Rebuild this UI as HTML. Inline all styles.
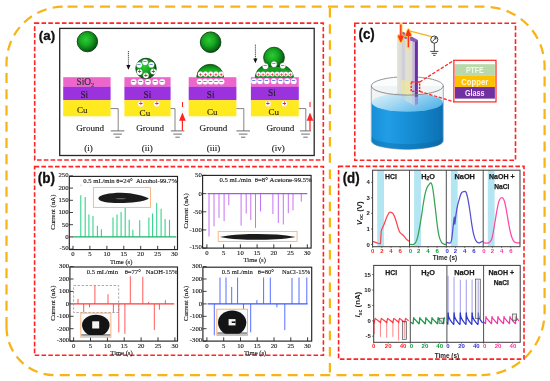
<!DOCTYPE html>
<html lang="en"><head><meta charset="utf-8"><title>Figure</title>
<style>html,body{margin:0;padding:0;background:#fff;}svg{display:block;}.se{font-family:"Liberation Serif", serif;stroke:#222;stroke-width:0.14px;}.sa{font-family:"Liberation Sans", sans-serif;}</style></head><body>
<svg width="550" height="381" viewBox="0 0 550 381">
<defs>
<radialGradient id="gball" cx="0.42" cy="0.4" r="0.62"><stop offset="0" stop-color="#2bcc32"/><stop offset="0.45" stop-color="#18a823"/><stop offset="0.85" stop-color="#0b6915"/><stop offset="1" stop-color="#06420c"/></radialGradient>
<radialGradient id="gdome" cx="0.5" cy="0.75" r="0.8"><stop offset="0" stop-color="#29c630"/><stop offset="0.5" stop-color="#18a823"/><stop offset="0.9" stop-color="#0b6915"/><stop offset="1" stop-color="#06420c"/></radialGradient>
<radialGradient id="gball4" cx="0.5" cy="0.45" r="0.7"><stop offset="0" stop-color="#29c630"/><stop offset="0.5" stop-color="#18a823"/><stop offset="0.9" stop-color="#0b6915"/><stop offset="1" stop-color="#06420c"/></radialGradient>
<linearGradient id="gwater" x1="0" y1="0" x2="1" y2="0"><stop offset="0" stop-color="#168fd6"/><stop offset="0.22" stop-color="#219ee6"/><stop offset="0.6" stop-color="#148ad0"/><stop offset="1" stop-color="#0c70b2"/></linearGradient>
<linearGradient id="gsurf" x1="0" y1="0" x2="1" y2="0.6"><stop offset="0" stop-color="#e4f3fb"/><stop offset="0.45" stop-color="#a8daf4"/><stop offset="1" stop-color="#5ab6ea"/></linearGradient>
<linearGradient id="gplate" x1="0" y1="0" x2="1" y2="0"><stop offset="0" stop-color="#e4e4dc"/><stop offset="0.22" stop-color="#dcdcd6"/><stop offset="0.3" stop-color="#cfcfda"/><stop offset="0.42" stop-color="#d2d0da"/><stop offset="0.5" stop-color="#e4e2d0"/><stop offset="0.85" stop-color="#dedcc8"/><stop offset="1" stop-color="#d8d2da"/></linearGradient>
<linearGradient id="gbase" x1="0" y1="0" x2="0" y2="1"><stop offset="0" stop-color="#6a6a6a"/><stop offset="1" stop-color="#d8d8d8"/></linearGradient>
</defs>
<rect width="550" height="381" fill="#fff"/>
<path d="M63.5 6.7 H484.6 A60 60 0 0 1 544.6 66.7 V312.1 A63 63 0 0 1 481.6 375.1" fill="none" stroke="#f8b414" stroke-width="2.25" stroke-dasharray="10 6.28" stroke-dashoffset="-4.0"/>
<path d="M481.6 375.1 H54.5 A48 48 0 0 1 6.5 327.1" fill="none" stroke="#f8b414" stroke-width="2.25" stroke-dasharray="10 6.28" stroke-dashoffset="-4.85"/>
<path d="M6.5 327.1 V63.7 A57 57 0 0 1 63.5 6.7" fill="none" stroke="#f8b414" stroke-width="2.25" stroke-dasharray="10 6.28" stroke-dashoffset="0"/>
<line x1="329.9" y1="6.7" x2="329.9" y2="375" stroke="#f8b414" stroke-width="2.25" stroke-dasharray="9.5 6.64" stroke-dashoffset="-1.3"/>
<rect x="34.7" y="23.1" width="288.6" height="136.9" fill="none" stroke="#ff2323" stroke-width="1.6" stroke-dasharray="4.6 2.2"/>
<rect x="34.6" y="166.6" width="288.8" height="188.7" fill="none" stroke="#ff2323" stroke-width="1.6" stroke-dasharray="4.6 2.2"/>
<rect x="354.8" y="23.2" width="160.7" height="137.0" fill="none" stroke="#ff2323" stroke-width="1.6" stroke-dasharray="4.6 2.2"/>
<rect x="338.6" y="166.4" width="185.4" height="192.7" fill="none" stroke="#ff2323" stroke-width="1.6" stroke-dasharray="4.6 2.2"/>
<text x="38.8" y="40.4" class="sa" font-size="13.7" text-anchor="start" fill="#111" font-weight="bold" textLength="16.3" lengthAdjust="spacingAndGlyphs" stroke="#111" stroke-width="0.3">(a)</text>
<rect x="59.7" y="28.4" width="254.5" height="127.1" fill="#fff" stroke="#262626" stroke-width="1.3"/>
<rect x="63.2" y="77.2" width="47.4" height="9.7" fill="#ee66cc"/>
<rect x="63.2" y="86.8" width="47.4" height="13.4" fill="#9a33dd"/>
<rect x="63.2" y="100.1" width="47.4" height="16.2" fill="#ffe91f"/>
<text x="84.3" y="97.6" class="se" font-size="9.3" text-anchor="middle" fill="#2a1a2a">Si</text>
<text x="82.3" y="112.9" class="se" font-size="9.1" text-anchor="middle" fill="#33300a">Cu</text>
<text x="85.3" y="85.2" class="se" font-size="9.3" text-anchor="middle" fill="#333">SiO<tspan font-size="6" dy="1.6">2</tspan></text>
<circle cx="87.4" cy="41.6" r="10.2" fill="url(#gball)" stroke="#06400c" stroke-width="0.9"/>
<path d="M110.6 108.6 H118.2 V130.8" fill="none" stroke="#666" stroke-width="0.8"/>
<path d="M110.8 130.9 H124.4 M113.3 134.1 H121.9 M115.4 137.2 H119.8" fill="none" stroke="#555" stroke-width="0.85"/>
<rect x="124.4" y="77.2" width="46.2" height="9.7" fill="#ee66cc"/>
<rect x="124.4" y="86.8" width="46.2" height="13.4" fill="#9a33dd"/>
<rect x="124.4" y="100.1" width="46.2" height="16.2" fill="#ffe91f"/>
<text x="147.5" y="97.6" class="se" font-size="9.3" text-anchor="middle" fill="#2a1a2a">Si</text>
<text x="144.9" y="115.5" class="se" font-size="9.1" text-anchor="middle" fill="#33300a">Cu</text>
<circle cx="146" cy="68.4" r="10.2" fill="url(#gball)" stroke="#06400c" stroke-width="0.9"/>
<circle cx="139.2" cy="65.0" r="2.8" fill="#fff" stroke="#cfcfe8" stroke-width="0.3"/>
<text x="139.2" y="67.14" class="sa" font-size="6.3" font-weight="bold" text-anchor="middle" fill="#2a55e0">−</text>
<circle cx="145.1" cy="62.3" r="2.8" fill="#fff" stroke="#cfcfe8" stroke-width="0.3"/>
<text x="145.1" y="64.44" class="sa" font-size="6.3" font-weight="bold" text-anchor="middle" fill="#2a55e0">−</text>
<circle cx="151.4" cy="64.7" r="2.8" fill="#fff" stroke="#cfcfe8" stroke-width="0.3"/>
<text x="151.4" y="66.84" class="sa" font-size="6.3" font-weight="bold" text-anchor="middle" fill="#2a55e0">−</text>
<circle cx="139.6" cy="72.1" r="2.8" fill="#fff" stroke="#cfcfe8" stroke-width="0.3"/>
<text x="139.6" y="74.24" class="sa" font-size="6.3" font-weight="bold" text-anchor="middle" fill="#e8202a">+</text>
<circle cx="145.9" cy="75.5" r="2.8" fill="#fff" stroke="#cfcfe8" stroke-width="0.3"/>
<text x="145.9" y="77.64" class="sa" font-size="6.3" font-weight="bold" text-anchor="middle" fill="#e8202a">+</text>
<circle cx="153.3" cy="71.5" r="2.8" fill="#fff" stroke="#cfcfe8" stroke-width="0.3"/>
<text x="153.3" y="73.64" class="sa" font-size="6.3" font-weight="bold" text-anchor="middle" fill="#e8202a">+</text>
<circle cx="133.7" cy="82.0" r="2.9" fill="#fff" stroke="#cfcfe8" stroke-width="0.3"/>
<text x="133.7" y="84.22" class="sa" font-size="6.5" font-weight="bold" text-anchor="middle" fill="#2a55e0">−</text>
<circle cx="140.6" cy="82.0" r="2.9" fill="#fff" stroke="#cfcfe8" stroke-width="0.3"/>
<text x="140.6" y="84.22" class="sa" font-size="6.5" font-weight="bold" text-anchor="middle" fill="#2a55e0">−</text>
<circle cx="148.0" cy="82.0" r="2.9" fill="#fff" stroke="#cfcfe8" stroke-width="0.3"/>
<text x="148.0" y="84.22" class="sa" font-size="6.5" font-weight="bold" text-anchor="middle" fill="#2a55e0">−</text>
<circle cx="155.3" cy="82.0" r="2.9" fill="#fff" stroke="#cfcfe8" stroke-width="0.3"/>
<text x="155.3" y="84.22" class="sa" font-size="6.5" font-weight="bold" text-anchor="middle" fill="#2a55e0">−</text>
<circle cx="162.2" cy="82.0" r="2.9" fill="#fff" stroke="#cfcfe8" stroke-width="0.3"/>
<text x="162.2" y="84.22" class="sa" font-size="6.5" font-weight="bold" text-anchor="middle" fill="#2a55e0">−</text>
<circle cx="140.8" cy="103.8" r="2.9" fill="#fff" stroke="#cfcfe8" stroke-width="0.3"/>
<text x="140.8" y="106.02" class="sa" font-size="6.5" font-weight="bold" text-anchor="middle" fill="#e8202a">+</text>
<circle cx="156.8" cy="103.8" r="2.9" fill="#fff" stroke="#cfcfe8" stroke-width="0.3"/>
<text x="156.8" y="106.02" class="sa" font-size="6.5" font-weight="bold" text-anchor="middle" fill="#e8202a">+</text>
<line x1="128.4" y1="51" x2="128.4" y2="66.3" stroke="#222" stroke-width="0.9" stroke-dasharray="1.1 0.8"/>
<path d="M128.4 69.8 L126.30000000000001 65.0 L130.5 65.0 Z" fill="#111"/>
<path d="M170.6 108.6 H175 V130.8" fill="none" stroke="#666" stroke-width="0.8"/>
<path d="M170.8 130.9 H184.4 M173.3 134.1 H181.9 M175.4 137.2 H179.8" fill="none" stroke="#555" stroke-width="0.85"/>
<text x="182.4" y="107.2" class="sa" font-size="7.3" font-weight="bold" text-anchor="middle" fill="#ff2323">I</text>
<line x1="182.4" y1="119" x2="182.4" y2="130.4" stroke="#ff2323" stroke-width="1.2"/>
<path d="M182.4 112.6 L185.70000000000002 120.8 L179.1 120.8 Z" fill="#ff2323"/>
<rect x="188.7" y="77.2" width="47.7" height="9.7" fill="#ee66cc"/>
<rect x="188.7" y="86.8" width="47.7" height="13.4" fill="#9a33dd"/>
<rect x="188.7" y="100.1" width="47.7" height="16.2" fill="#ffe91f"/>
<text x="210.7" y="97.6" class="se" font-size="9.3" text-anchor="middle" fill="#2a1a2a">Si</text>
<text x="212.2" y="115.4" class="se" font-size="9.1" text-anchor="middle" fill="#33300a">Cu</text>
<circle cx="210.6" cy="42.2" r="10.3" fill="url(#gball)" stroke="#06400c" stroke-width="0.9"/>
<path d="M196.8 77.2 A13.4 12.9 0 0 1 223.6 77.2 Z" fill="url(#gdome)" stroke="#06400c" stroke-width="0.7"/>
<circle cx="200.5" cy="74.1" r="2.6" fill="#fff" stroke="#cfcfe8" stroke-width="0.3"/>
<text x="200.5" y="76.09" class="sa" font-size="5.9" font-weight="bold" text-anchor="middle" fill="#e8202a">+</text>
<circle cx="205.5" cy="74.1" r="2.6" fill="#fff" stroke="#cfcfe8" stroke-width="0.3"/>
<text x="205.5" y="76.09" class="sa" font-size="5.9" font-weight="bold" text-anchor="middle" fill="#e8202a">+</text>
<circle cx="210.7" cy="74.1" r="2.6" fill="#fff" stroke="#cfcfe8" stroke-width="0.3"/>
<text x="210.7" y="76.09" class="sa" font-size="5.9" font-weight="bold" text-anchor="middle" fill="#e8202a">+</text>
<circle cx="216.0" cy="74.1" r="2.6" fill="#fff" stroke="#cfcfe8" stroke-width="0.3"/>
<text x="216.0" y="76.09" class="sa" font-size="5.9" font-weight="bold" text-anchor="middle" fill="#e8202a">+</text>
<circle cx="221.2" cy="74.1" r="2.6" fill="#fff" stroke="#cfcfe8" stroke-width="0.3"/>
<text x="221.2" y="76.09" class="sa" font-size="5.9" font-weight="bold" text-anchor="middle" fill="#e8202a">+</text>
<circle cx="199.7" cy="81.6" r="2.9" fill="#fff" stroke="#cfcfe8" stroke-width="0.3"/>
<text x="199.7" y="83.82" class="sa" font-size="6.5" font-weight="bold" text-anchor="middle" fill="#2a55e0">−</text>
<circle cx="205.2" cy="81.6" r="2.9" fill="#fff" stroke="#cfcfe8" stroke-width="0.3"/>
<text x="205.2" y="83.82" class="sa" font-size="6.5" font-weight="bold" text-anchor="middle" fill="#2a55e0">−</text>
<circle cx="210.7" cy="81.6" r="2.9" fill="#fff" stroke="#cfcfe8" stroke-width="0.3"/>
<text x="210.7" y="83.82" class="sa" font-size="6.5" font-weight="bold" text-anchor="middle" fill="#2a55e0">−</text>
<circle cx="216.2" cy="81.6" r="2.9" fill="#fff" stroke="#cfcfe8" stroke-width="0.3"/>
<text x="216.2" y="83.82" class="sa" font-size="6.5" font-weight="bold" text-anchor="middle" fill="#2a55e0">−</text>
<circle cx="221.5" cy="81.6" r="2.9" fill="#fff" stroke="#cfcfe8" stroke-width="0.3"/>
<text x="221.5" y="83.82" class="sa" font-size="6.5" font-weight="bold" text-anchor="middle" fill="#2a55e0">−</text>
<path d="M236.4 108.6 H243.8 V130.8" fill="none" stroke="#666" stroke-width="0.8"/>
<path d="M236.4 130.9 H250.0 M238.9 134.1 H247.5 M241.0 137.2 H245.4" fill="none" stroke="#555" stroke-width="0.85"/>
<rect x="250.9" y="77.2" width="47.9" height="9.7" fill="#ee66cc"/>
<rect x="250.9" y="86.8" width="47.9" height="13.4" fill="#9a33dd"/>
<rect x="250.9" y="100.1" width="47.9" height="16.2" fill="#ffe91f"/>
<text x="271.9" y="96.4" class="se" font-size="9.3" text-anchor="middle" fill="#2a1a2a">Si</text>
<text x="273.8" y="115.4" class="se" font-size="9.1" text-anchor="middle" fill="#33300a">Cu</text>
<path d="M255.2 77.2 C255.8 71 259.8 66.6 264.5 65.3 H283.5 C288.2 66.6 292.8 71 293.4 77.2 Z" fill="url(#gdome)" stroke="#06400c" stroke-width="0.7"/>
<circle cx="274" cy="57.6" r="10.4" fill="url(#gball)" stroke="#06400c" stroke-width="0.8"/>
<path d="M265.5 66.9 H282.5 V72 H265.5 Z" fill="#179a20"/>
<circle cx="265.4" cy="66.2" r="2.8" fill="#fff" stroke="#cfcfe8" stroke-width="0.3"/>
<text x="265.4" y="68.34" class="sa" font-size="6.3" font-weight="bold" text-anchor="middle" fill="#2a55e0">−</text>
<circle cx="274.0" cy="64.3" r="2.8" fill="#fff" stroke="#cfcfe8" stroke-width="0.3"/>
<text x="274.0" y="66.44" class="sa" font-size="6.3" font-weight="bold" text-anchor="middle" fill="#2a55e0">−</text>
<circle cx="282.8" cy="65.7" r="2.8" fill="#fff" stroke="#cfcfe8" stroke-width="0.3"/>
<text x="282.8" y="67.84" class="sa" font-size="6.3" font-weight="bold" text-anchor="middle" fill="#2a55e0">−</text>
<circle cx="258.6" cy="74.1" r="2.4" fill="#fff" stroke="#cfcfe8" stroke-width="0.3"/>
<text x="258.6" y="75.94" class="sa" font-size="5.4" font-weight="bold" text-anchor="middle" fill="#e8202a">+</text>
<circle cx="263.1" cy="74.1" r="2.4" fill="#fff" stroke="#cfcfe8" stroke-width="0.3"/>
<text x="263.1" y="75.94" class="sa" font-size="5.4" font-weight="bold" text-anchor="middle" fill="#e8202a">+</text>
<circle cx="267.8" cy="74.1" r="2.4" fill="#fff" stroke="#cfcfe8" stroke-width="0.3"/>
<text x="267.8" y="75.94" class="sa" font-size="5.4" font-weight="bold" text-anchor="middle" fill="#e8202a">+</text>
<circle cx="272.3" cy="74.1" r="2.4" fill="#fff" stroke="#cfcfe8" stroke-width="0.3"/>
<text x="272.3" y="75.94" class="sa" font-size="5.4" font-weight="bold" text-anchor="middle" fill="#e8202a">+</text>
<circle cx="277.1" cy="74.1" r="2.4" fill="#fff" stroke="#cfcfe8" stroke-width="0.3"/>
<text x="277.1" y="75.94" class="sa" font-size="5.4" font-weight="bold" text-anchor="middle" fill="#e8202a">+</text>
<circle cx="281.6" cy="74.1" r="2.4" fill="#fff" stroke="#cfcfe8" stroke-width="0.3"/>
<text x="281.6" y="75.94" class="sa" font-size="5.4" font-weight="bold" text-anchor="middle" fill="#e8202a">+</text>
<circle cx="285.9" cy="74.1" r="2.4" fill="#fff" stroke="#cfcfe8" stroke-width="0.3"/>
<text x="285.9" y="75.94" class="sa" font-size="5.4" font-weight="bold" text-anchor="middle" fill="#e8202a">+</text>
<circle cx="290.4" cy="74.1" r="2.4" fill="#fff" stroke="#cfcfe8" stroke-width="0.3"/>
<text x="290.4" y="75.94" class="sa" font-size="5.4" font-weight="bold" text-anchor="middle" fill="#e8202a">+</text>
<circle cx="254.0" cy="81.2" r="2.9" fill="#fff" stroke="#cfcfe8" stroke-width="0.3"/>
<text x="254.0" y="83.42" class="sa" font-size="6.5" font-weight="bold" text-anchor="middle" fill="#2a55e0">−</text>
<circle cx="260.1" cy="81.2" r="2.9" fill="#fff" stroke="#cfcfe8" stroke-width="0.3"/>
<text x="260.1" y="83.42" class="sa" font-size="6.5" font-weight="bold" text-anchor="middle" fill="#2a55e0">−</text>
<circle cx="266.7" cy="81.2" r="2.9" fill="#fff" stroke="#cfcfe8" stroke-width="0.3"/>
<text x="266.7" y="83.42" class="sa" font-size="6.5" font-weight="bold" text-anchor="middle" fill="#2a55e0">−</text>
<circle cx="273.8" cy="81.2" r="2.9" fill="#fff" stroke="#cfcfe8" stroke-width="0.3"/>
<text x="273.8" y="83.42" class="sa" font-size="6.5" font-weight="bold" text-anchor="middle" fill="#2a55e0">−</text>
<circle cx="280.6" cy="81.2" r="2.9" fill="#fff" stroke="#cfcfe8" stroke-width="0.3"/>
<text x="280.6" y="83.42" class="sa" font-size="6.5" font-weight="bold" text-anchor="middle" fill="#2a55e0">−</text>
<circle cx="287.2" cy="81.2" r="2.9" fill="#fff" stroke="#cfcfe8" stroke-width="0.3"/>
<text x="287.2" y="83.42" class="sa" font-size="6.5" font-weight="bold" text-anchor="middle" fill="#2a55e0">−</text>
<circle cx="293.7" cy="81.2" r="2.9" fill="#fff" stroke="#cfcfe8" stroke-width="0.3"/>
<text x="293.7" y="83.42" class="sa" font-size="6.5" font-weight="bold" text-anchor="middle" fill="#2a55e0">−</text>
<circle cx="268.0" cy="103.7" r="2.9" fill="#fff" stroke="#cfcfe8" stroke-width="0.3"/>
<text x="268.0" y="105.92" class="sa" font-size="6.5" font-weight="bold" text-anchor="middle" fill="#e8202a">+</text>
<circle cx="284.3" cy="103.7" r="2.9" fill="#fff" stroke="#cfcfe8" stroke-width="0.3"/>
<text x="284.3" y="105.92" class="sa" font-size="6.5" font-weight="bold" text-anchor="middle" fill="#e8202a">+</text>
<line x1="255.4" y1="44.7" x2="255.4" y2="59.7" stroke="#222" stroke-width="0.9" stroke-dasharray="1.1 0.8"/>
<path d="M255.4 63.2 L253.3 58.400000000000006 L257.5 58.400000000000006 Z" fill="#111"/>
<path d="M298.8 108.6 H305.8 V130.8" fill="none" stroke="#666" stroke-width="0.8"/>
<path d="M299.9 130.9 H311.1 M301.2 134.1 H309.8 M303.3 137.2 H307.7" fill="none" stroke="#555" stroke-width="0.85"/>
<text x="310" y="107.2" class="sa" font-size="7.3" font-weight="bold" text-anchor="middle" fill="#ff2323">I</text>
<line x1="310" y1="119" x2="310" y2="130.4" stroke="#ff2323" stroke-width="1.2"/>
<path d="M310 112.6 L313.3 120.8 L306.7 120.8 Z" fill="#ff2323"/>
<text x="90.2" y="131.2" class="se" font-size="9" text-anchor="middle" fill="#222" textLength="27.8" lengthAdjust="spacingAndGlyphs">Ground</text>
<text x="150.1" y="131.2" class="se" font-size="9" text-anchor="middle" fill="#222" textLength="27.8" lengthAdjust="spacingAndGlyphs">Ground</text>
<text x="213.5" y="131.2" class="se" font-size="9" text-anchor="middle" fill="#222" textLength="27.8" lengthAdjust="spacingAndGlyphs">Ground</text>
<text x="280.4" y="131.2" class="se" font-size="9" text-anchor="middle" fill="#222" textLength="27.8" lengthAdjust="spacingAndGlyphs">Ground</text>
<text x="88.5" y="150.8" class="se" font-size="9" text-anchor="middle" fill="#222">(i)</text>
<text x="147.3" y="150.8" class="se" font-size="9" text-anchor="middle" fill="#222">(ii)</text>
<text x="213.5" y="150.8" class="se" font-size="9" text-anchor="middle" fill="#222">(iii)</text>
<text x="278.3" y="150.8" class="se" font-size="9" text-anchor="middle" fill="#222">(iv)</text>
<text x="37.7" y="182.8" class="sa" font-size="14.1" text-anchor="start" fill="#111" font-weight="bold" textLength="17.3" lengthAdjust="spacingAndGlyphs" stroke="#111" stroke-width="0.3">(b)</text>
<rect x="69.3" y="176.4" width="108.2" height="73.2" fill="#fff" stroke="#222" stroke-width="1.15"/>
<line x1="73.0" y1="245.79999999999998" x2="73.0" y2="249.6" stroke="#222" stroke-width="0.9"/>
<text x="73.0" y="256.0" class="se" font-size="6.7" text-anchor="middle" fill="#222">0</text>
<line x1="89.9" y1="245.79999999999998" x2="89.9" y2="249.6" stroke="#222" stroke-width="0.9"/>
<text x="89.9" y="256.0" class="se" font-size="6.7" text-anchor="middle" fill="#222">5</text>
<line x1="106.9" y1="245.79999999999998" x2="106.9" y2="249.6" stroke="#222" stroke-width="0.9"/>
<text x="106.9" y="256.0" class="se" font-size="6.7" text-anchor="middle" fill="#222">10</text>
<line x1="123.8" y1="245.79999999999998" x2="123.8" y2="249.6" stroke="#222" stroke-width="0.9"/>
<text x="123.8" y="256.0" class="se" font-size="6.7" text-anchor="middle" fill="#222">15</text>
<line x1="140.7" y1="245.79999999999998" x2="140.7" y2="249.6" stroke="#222" stroke-width="0.9"/>
<text x="140.7" y="256.0" class="se" font-size="6.7" text-anchor="middle" fill="#222">20</text>
<line x1="157.7" y1="245.79999999999998" x2="157.7" y2="249.6" stroke="#222" stroke-width="0.9"/>
<text x="157.7" y="256.0" class="se" font-size="6.7" text-anchor="middle" fill="#222">25</text>
<line x1="174.6" y1="245.79999999999998" x2="174.6" y2="249.6" stroke="#222" stroke-width="0.9"/>
<text x="174.6" y="256.0" class="se" font-size="6.7" text-anchor="middle" fill="#222">30</text>
<line x1="69.3" y1="175.9" x2="73.0" y2="175.9" stroke="#222" stroke-width="0.85"/>
<text x="68.5" y="177.4" class="se" font-size="6.7" text-anchor="end" fill="#222">250</text>
<line x1="69.3" y1="188.1" x2="73.0" y2="188.1" stroke="#222" stroke-width="0.85"/>
<text x="68.5" y="190.0" class="se" font-size="6.7" text-anchor="end" fill="#222">200</text>
<line x1="69.3" y1="200.3" x2="73.0" y2="200.3" stroke="#222" stroke-width="0.85"/>
<text x="68.5" y="202.2" class="se" font-size="6.7" text-anchor="end" fill="#222">150</text>
<line x1="69.3" y1="212.5" x2="73.0" y2="212.5" stroke="#222" stroke-width="0.85"/>
<text x="68.5" y="214.4" class="se" font-size="6.7" text-anchor="end" fill="#222">100</text>
<line x1="69.3" y1="224.7" x2="73.0" y2="224.7" stroke="#222" stroke-width="0.85"/>
<text x="68.5" y="226.6" class="se" font-size="6.7" text-anchor="end" fill="#222">50</text>
<line x1="69.3" y1="236.9" x2="73.0" y2="236.9" stroke="#222" stroke-width="0.85"/>
<text x="68.5" y="238.8" class="se" font-size="6.7" text-anchor="end" fill="#222">0</text>
<line x1="69.3" y1="249.1" x2="73.0" y2="249.1" stroke="#222" stroke-width="0.85"/>
<text x="68.5" y="250.1" class="se" font-size="6.7" text-anchor="end" fill="#222">-50</text>
<text x="121.2" y="263.5" class="se" font-size="6.6" text-anchor="middle" fill="#222">Time (s)</text>
<text class="se" font-size="6.8" text-anchor="middle" fill="#222" transform="translate(54.5 212.2) rotate(-90)">Current (nA)</text>
<text x="83.2" y="183.4" class="se" font-size="6.7" fill="#222" textLength="93.8" lengthAdjust="spacingAndGlyphs" xml:space="preserve" style="white-space:pre">0.5 mL/min θ=24°  Alcohol-99.7%</text>
<path d="M80.8 236.9V195.2M85.2 236.9V197.1M88.9 236.9V214.5M93.0 236.9V215.9M97.4 236.9V225.7M101.4 236.9V229.3M113.0 236.9V217.4M117.0 236.9V214.5M121.1 236.9V212.0M125.2 236.9V208.1M129.2 236.9V219.8M132.9 236.9V229.8M139.7 236.9V220.3M148.9 236.9V217.4M152.6 236.9V213.5M156.7 236.9V203.0M161.1 236.9V208.8M165.1 236.9V219.1M169.5 236.9V219.8" fill="none" stroke="#36d48e" stroke-width="1.1"/>
<line x1="72.3" y1="236.9" x2="176.3" y2="236.9" stroke="#1fb266" stroke-width="1.35"/>
<line x1="80.6" y1="185.2" x2="81.6" y2="185.2" stroke="#36d48e" stroke-width="0.8"/>
<line x1="69.8" y1="236.9" x2="72.5" y2="236.9" stroke="#ff4848" stroke-width="0.9" opacity="0.7"/>
<rect x="93.4" y="187.4" width="57.1" height="20" fill="#fdfdfd" stroke="#f9b27c" stroke-width="0.9"/>
<path d="M98.4 198.3 C98.6 195 110 192.8 121 192.8 C133 192.8 144 196 148.9 198.7 C143 201.6 131 203.1 119 203.1 C108 203.1 98.3 201.6 98.4 198.3 Z" fill="#1b1b1b"/>
<ellipse cx="120.8" cy="198.6" rx="5.4" ry="0.7" fill="#777" opacity="0.8"/>
<rect x="202.6" y="175.4" width="108.5" height="72.7" fill="#fff" stroke="#222" stroke-width="1.15"/>
<line x1="206.9" y1="244.29999999999998" x2="206.9" y2="248.1" stroke="#222" stroke-width="0.9"/>
<text x="206.9" y="254.5" class="se" font-size="6.7" text-anchor="middle" fill="#222">0</text>
<line x1="223.6" y1="244.29999999999998" x2="223.6" y2="248.1" stroke="#222" stroke-width="0.9"/>
<text x="223.6" y="254.5" class="se" font-size="6.7" text-anchor="middle" fill="#222">5</text>
<line x1="240.4" y1="244.29999999999998" x2="240.4" y2="248.1" stroke="#222" stroke-width="0.9"/>
<text x="240.4" y="254.5" class="se" font-size="6.7" text-anchor="middle" fill="#222">10</text>
<line x1="257.1" y1="244.29999999999998" x2="257.1" y2="248.1" stroke="#222" stroke-width="0.9"/>
<text x="257.1" y="254.5" class="se" font-size="6.7" text-anchor="middle" fill="#222">15</text>
<line x1="273.8" y1="244.29999999999998" x2="273.8" y2="248.1" stroke="#222" stroke-width="0.9"/>
<text x="273.8" y="254.5" class="se" font-size="6.7" text-anchor="middle" fill="#222">20</text>
<line x1="290.6" y1="244.29999999999998" x2="290.6" y2="248.1" stroke="#222" stroke-width="0.9"/>
<text x="290.6" y="254.5" class="se" font-size="6.7" text-anchor="middle" fill="#222">25</text>
<line x1="307.3" y1="244.29999999999998" x2="307.3" y2="248.1" stroke="#222" stroke-width="0.9"/>
<text x="307.3" y="254.5" class="se" font-size="6.7" text-anchor="middle" fill="#222">30</text>
<line x1="202.6" y1="175.4" x2="206.29999999999998" y2="175.4" stroke="#222" stroke-width="0.85"/>
<text x="201.8" y="176.9" class="se" font-size="6.7" text-anchor="end" fill="#222">50</text>
<line x1="202.6" y1="193.6" x2="206.29999999999998" y2="193.6" stroke="#222" stroke-width="0.85"/>
<text x="201.8" y="195.5" class="se" font-size="6.7" text-anchor="end" fill="#222">0</text>
<line x1="202.6" y1="211.8" x2="206.29999999999998" y2="211.8" stroke="#222" stroke-width="0.85"/>
<text x="201.8" y="213.7" class="se" font-size="6.7" text-anchor="end" fill="#222">-50</text>
<line x1="202.6" y1="229.9" x2="206.29999999999998" y2="229.9" stroke="#222" stroke-width="0.85"/>
<text x="201.8" y="231.8" class="se" font-size="6.7" text-anchor="end" fill="#222">-100</text>
<line x1="202.6" y1="248.1" x2="206.29999999999998" y2="248.1" stroke="#222" stroke-width="0.85"/>
<text x="201.8" y="249.1" class="se" font-size="6.7" text-anchor="end" fill="#222">-150</text>
<text x="254.7" y="262.0" class="se" font-size="6.6" text-anchor="middle" fill="#222">Time (s)</text>
<text class="se" font-size="6.8" text-anchor="middle" fill="#222" transform="translate(187.8 210.9) rotate(-90)">Current (nA)</text>
<text x="219.5" y="182.4" class="se" font-size="6.7" fill="#222" textLength="92.2" lengthAdjust="spacingAndGlyphs" xml:space="preserve" style="white-space:pre">0.5 mL/min  θ=8° Acetone-99.5%</text>
<path d="M209.0 193.6V236.5M214.0 193.6V226.3M219.0 193.6V217.9M224.1 193.6V221.2M228.8 193.6V205.2M241.1 193.6V225.6M246.2 193.6V213.6M250.8 193.6V220.1M255.5 193.6V227.8M260.5 193.6V211.4M272.9 193.6V214.0M278.3 193.6V223.0M283.3 193.6V224.5M288.3 193.6V213.2M293.0 193.6V210.3M301.3 193.6V201.6" fill="none" stroke="#c673f4" stroke-width="1.0"/>
<line x1="207.6" y1="193.6" x2="307.3" y2="193.6" stroke="#ad55ea" stroke-width="1.35"/>
<rect x="218.2" y="231.4" width="78.9" height="10" fill="#fdfdfd" stroke="#f9b27c" stroke-width="0.9"/>
<path d="M219.9 236.9 C236 233.9 250 234 258 234 C270 234 284 234.6 295.6 237 C284 239.6 268 239.8 257 239.8 C246 239.8 232 239.4 219.9 236.9 Z" fill="#1b1b1b"/>
<rect x="69.9" y="267" width="107.6" height="74.1" fill="#fff" stroke="#222" stroke-width="1.15"/>
<line x1="73.6" y1="337.3" x2="73.6" y2="341.1" stroke="#222" stroke-width="0.9"/>
<text x="73.6" y="347.5" class="se" font-size="6.7" text-anchor="middle" fill="#222">0</text>
<line x1="90.5" y1="337.3" x2="90.5" y2="341.1" stroke="#222" stroke-width="0.9"/>
<text x="90.5" y="347.5" class="se" font-size="6.7" text-anchor="middle" fill="#222">5</text>
<line x1="107.4" y1="337.3" x2="107.4" y2="341.1" stroke="#222" stroke-width="0.9"/>
<text x="107.4" y="347.5" class="se" font-size="6.7" text-anchor="middle" fill="#222">10</text>
<line x1="124.2" y1="337.3" x2="124.2" y2="341.1" stroke="#222" stroke-width="0.9"/>
<text x="124.2" y="347.5" class="se" font-size="6.7" text-anchor="middle" fill="#222">15</text>
<line x1="141.1" y1="337.3" x2="141.1" y2="341.1" stroke="#222" stroke-width="0.9"/>
<text x="141.1" y="347.5" class="se" font-size="6.7" text-anchor="middle" fill="#222">20</text>
<line x1="158.0" y1="337.3" x2="158.0" y2="341.1" stroke="#222" stroke-width="0.9"/>
<text x="158.0" y="347.5" class="se" font-size="6.7" text-anchor="middle" fill="#222">25</text>
<line x1="174.9" y1="337.3" x2="174.9" y2="341.1" stroke="#222" stroke-width="0.9"/>
<text x="174.9" y="347.5" class="se" font-size="6.7" text-anchor="middle" fill="#222">30</text>
<line x1="69.9" y1="266.6" x2="73.60000000000001" y2="266.6" stroke="#222" stroke-width="0.85"/>
<text x="69.1" y="268.1" class="se" font-size="6.7" text-anchor="end" fill="#222">300</text>
<line x1="69.9" y1="279.0" x2="73.60000000000001" y2="279.0" stroke="#222" stroke-width="0.85"/>
<text x="69.1" y="280.9" class="se" font-size="6.7" text-anchor="end" fill="#222">200</text>
<line x1="69.9" y1="291.4" x2="73.60000000000001" y2="291.4" stroke="#222" stroke-width="0.85"/>
<text x="69.1" y="293.3" class="se" font-size="6.7" text-anchor="end" fill="#222">100</text>
<line x1="69.9" y1="303.9" x2="73.60000000000001" y2="303.9" stroke="#222" stroke-width="0.85"/>
<text x="69.1" y="305.8" class="se" font-size="6.7" text-anchor="end" fill="#222">0</text>
<line x1="69.9" y1="316.3" x2="73.60000000000001" y2="316.3" stroke="#222" stroke-width="0.85"/>
<text x="69.1" y="318.2" class="se" font-size="6.7" text-anchor="end" fill="#222">-100</text>
<line x1="69.9" y1="328.7" x2="73.60000000000001" y2="328.7" stroke="#222" stroke-width="0.85"/>
<text x="69.1" y="330.6" class="se" font-size="6.7" text-anchor="end" fill="#222">-200</text>
<line x1="69.9" y1="341.1" x2="73.60000000000001" y2="341.1" stroke="#222" stroke-width="0.85"/>
<text x="69.1" y="342.1" class="se" font-size="6.7" text-anchor="end" fill="#222">-300</text>
<text x="121.5" y="355.0" class="se" font-size="6.6" text-anchor="middle" fill="#222">Time (s)</text>
<text class="se" font-size="6.8" text-anchor="middle" fill="#222" transform="translate(55.1 303.2) rotate(-90)">Current (nA)</text>
<text x="86.7" y="274" class="se" font-size="6.7" fill="#222" textLength="90.8" lengthAdjust="spacingAndGlyphs" xml:space="preserve" style="white-space:pre">0.5 mL/min    θ=77°   NaOH-15%</text>
<path d="M78.0 303.9V298.9M83.7 303.9V312.5M89.5 303.9V307.3M94.9 303.9V285.5M108.0 303.9V294.2M113.4 303.9V312.5M118.8 303.9V332.4M124.9 303.9V333.9M130.3 303.9V276.2M142.8 303.9V276.8M148.6 303.9V301.9M154.3 303.9V330.1M159.4 303.9V309.7M165.4 303.9V300.1" fill="none" stroke="#ff4848" stroke-width="0.9"/>
<line x1="73.6" y1="303.9" x2="174.2" y2="303.9" stroke="#ff3a3a" stroke-width="1.35"/>
<rect x="73.6" y="285.5" width="45.1" height="27" fill="none" stroke="#888" stroke-width="0.7" stroke-dasharray="2.4 1.6"/>
<rect x="80.8" y="313.1" width="30.1" height="24.1" fill="#fbfbfb" stroke="#f9ac70" stroke-width="0.9"/>
<rect x="81.3" y="334.2" width="29.1" height="2.6" fill="url(#gbase)"/>
<path d="M82.0 324.9 C82.0 319.3 88.3 314.8 95.8 314.8 C103.4 314.8 109.6 319.3 109.6 324.9 C109.6 329.9 105.0 334.4 102.1 335.0 H89.6 C86.7 334.4 82.0 329.9 82.0 324.9 Z" fill="#141414"/>
<rect x="92.2" y="321.3" width="7" height="7.2" fill="#f4f4f4"/>
<rect x="202.9" y="267.2" width="108.8" height="73.9" fill="#fff" stroke="#222" stroke-width="1.15"/>
<line x1="206.9" y1="337.3" x2="206.9" y2="341.1" stroke="#222" stroke-width="0.9"/>
<text x="206.9" y="347.5" class="se" font-size="6.7" text-anchor="middle" fill="#222">0</text>
<line x1="223.7" y1="337.3" x2="223.7" y2="341.1" stroke="#222" stroke-width="0.9"/>
<text x="223.7" y="347.5" class="se" font-size="6.7" text-anchor="middle" fill="#222">5</text>
<line x1="240.5" y1="337.3" x2="240.5" y2="341.1" stroke="#222" stroke-width="0.9"/>
<text x="240.5" y="347.5" class="se" font-size="6.7" text-anchor="middle" fill="#222">10</text>
<line x1="257.2" y1="337.3" x2="257.2" y2="341.1" stroke="#222" stroke-width="0.9"/>
<text x="257.2" y="347.5" class="se" font-size="6.7" text-anchor="middle" fill="#222">15</text>
<line x1="274.0" y1="337.3" x2="274.0" y2="341.1" stroke="#222" stroke-width="0.9"/>
<text x="274.0" y="347.5" class="se" font-size="6.7" text-anchor="middle" fill="#222">20</text>
<line x1="290.8" y1="337.3" x2="290.8" y2="341.1" stroke="#222" stroke-width="0.9"/>
<text x="290.8" y="347.5" class="se" font-size="6.7" text-anchor="middle" fill="#222">25</text>
<line x1="307.6" y1="337.3" x2="307.6" y2="341.1" stroke="#222" stroke-width="0.9"/>
<text x="307.6" y="347.5" class="se" font-size="6.7" text-anchor="middle" fill="#222">30</text>
<line x1="202.9" y1="266.6" x2="206.6" y2="266.6" stroke="#222" stroke-width="0.85"/>
<text x="202.1" y="268.1" class="se" font-size="6.7" text-anchor="end" fill="#222">300</text>
<line x1="202.9" y1="279.0" x2="206.6" y2="279.0" stroke="#222" stroke-width="0.85"/>
<text x="202.1" y="280.9" class="se" font-size="6.7" text-anchor="end" fill="#222">200</text>
<line x1="202.9" y1="291.4" x2="206.6" y2="291.4" stroke="#222" stroke-width="0.85"/>
<text x="202.1" y="293.3" class="se" font-size="6.7" text-anchor="end" fill="#222">100</text>
<line x1="202.9" y1="303.9" x2="206.6" y2="303.9" stroke="#222" stroke-width="0.85"/>
<text x="202.1" y="305.8" class="se" font-size="6.7" text-anchor="end" fill="#222">0</text>
<line x1="202.9" y1="316.3" x2="206.6" y2="316.3" stroke="#222" stroke-width="0.85"/>
<text x="202.1" y="318.2" class="se" font-size="6.7" text-anchor="end" fill="#222">-100</text>
<line x1="202.9" y1="328.7" x2="206.6" y2="328.7" stroke="#222" stroke-width="0.85"/>
<text x="202.1" y="330.6" class="se" font-size="6.7" text-anchor="end" fill="#222">-200</text>
<line x1="202.9" y1="341.1" x2="206.6" y2="341.1" stroke="#222" stroke-width="0.85"/>
<text x="202.1" y="342.1" class="se" font-size="6.7" text-anchor="end" fill="#222">-300</text>
<text x="255.1" y="355.0" class="se" font-size="6.6" text-anchor="middle" fill="#222">Time (s)</text>
<text class="se" font-size="6.8" text-anchor="middle" fill="#222" transform="translate(188.1 303.3) rotate(-90)">Current (nA)</text>
<text x="221.8" y="274.2" class="se" font-size="6.7" fill="#222" textLength="88.4" lengthAdjust="spacingAndGlyphs" xml:space="preserve" style="white-space:pre">0.5 mL/min   θ=80°     NaCl-15%</text>
<path d="M214.3 303.9V335.4M220.0 303.9V277.5M226.0 303.9V277.5M231.7 303.9V287.0M237.6 303.9V277.5M243.5 303.9V309.1M250.7 303.9V332.4M256.9 303.9V300.1M263.6 303.9V277.5M270.3 303.9V277.5M276.9 303.9V307.3M284.8 303.9V330.1M292.0 303.9V278.0M299.0 303.9V277.5M306.8 303.9V277.5" fill="none" stroke="#4360ff" stroke-width="0.9"/>
<line x1="207.6" y1="303.9" x2="307.6" y2="303.9" stroke="#3a58ff" stroke-width="1.35"/>
<rect x="216.8" y="309.2" width="30.7" height="26.2" fill="#fbfbfb" stroke="#f9ac70" stroke-width="0.9"/>
<rect x="217.3" y="332.4" width="29.7" height="2.6" fill="url(#gbase)"/>
<path d="M218.0 322.4 C218.0 315.9 224.3 310.6 232.2 310.6 C240.0 310.6 246.3 315.9 246.3 322.4 C246.3 328.3 241.5 333.2 238.5 333.8 H225.8 C222.8 333.2 218.0 328.3 218.0 322.4 Z" fill="#141414"/>
<rect x="228.6" y="319.1" width="6.9" height="6.3" fill="#f4f4f4"/>
<rect x="231.7" y="321.4" width="3.8" height="1.6" fill="#141414"/>
<text x="358.5" y="38.9" class="sa" font-size="13.8" text-anchor="start" fill="#111" font-weight="bold" textLength="16.2" lengthAdjust="spacingAndGlyphs" stroke="#111" stroke-width="0.3">(c)</text>
<ellipse cx="407.3" cy="85.9" rx="36" ry="9.2" fill="#fbfcfc" stroke="#8a8a8a" stroke-width="0.9"/>
<path d="M371.3 85.9 V141 A36 8.3 0 0 0 443.3 141 V85.9" fill="#eef1f3" stroke="#999" stroke-width="0.8" fill-opacity="0.8"/>
<path d="M371.7 102.4 V141 A35.6 8.2 0 0 0 442.9 141 V102.4 Z" fill="url(#gwater)"/>
<path d="M371.7 136 V141 A35.6 8.2 0 0 0 442.9 141 V136 A35.6 8.2 0 0 1 371.7 136 Z" fill="#0a5f9a" opacity="0.35"/>
<ellipse cx="407.3" cy="102.4" rx="35.6" ry="9.4" fill="url(#gsurf)"/>
<path d="M402.6 31.5 L417.9 40 L415.4 42.8 L397.1 35.8 Z" fill="#8c5ab8"/>
<path d="M397.1 35.8 L415 42.6 V105.4 L397.1 96 Z" fill="url(#gplate)"/>
<path d="M414.7 42.5 L417.9 40 V103.8 L414.7 105.2 Z" fill="#6a2fa2"/>
<path d="M412.2 41.6 L414.8 42.5 V105.2 L412.2 103.9 Z" fill="#c4b0e2" opacity="0.85"/>
<path d="M401 79.6 L410.8 82 V98.6 L401 94.6 Z" fill="#ece6a0" opacity="0.8"/>
<path d="M397.1 92.6 L414.8 96.8 L417.9 96.4 V103.8 L414.8 105.4 L397.1 96 Z" fill="#a9d9f2" opacity="0.6"/>
<path d="M371.3 85.9 A36 9.2 0 0 0 443.3 85.9" fill="none" stroke="#8a8a8a" stroke-width="0.9"/>
<path d="M400.8 24.4 V37.5 M400.8 41.5 L398.6 36.3 H403.0 Z" fill="#ffd83a" stroke="#ffd83a" stroke-width="3.4" stroke-linejoin="round" stroke-linecap="round" opacity="0.9"/>
<path d="M400.8 24.4 V37.5 M400.8 41.5 L398.6 36.3 H403.0 Z" fill="#ff3316" stroke="#ff3316" stroke-width="1.4" stroke-linejoin="round"/>
<path d="M408.4 47.2 V34 M408.4 30 L406.2 35.2 H410.59999999999997 Z" fill="#ffd83a" stroke="#ffd83a" stroke-width="3.4" stroke-linejoin="round" stroke-linecap="round" opacity="0.9"/>
<path d="M408.4 47.2 V34 M408.4 30 L406.2 35.2 H410.59999999999997 Z" fill="#ff3316" stroke="#ff3316" stroke-width="1.4" stroke-linejoin="round"/>
<path d="M409.4 30.8 L431.6 36.6" fill="none" stroke="#f5b616" stroke-width="1.2"/>
<circle cx="434.3" cy="39.6" r="3.6" fill="#fff" stroke="#2a2a2a" stroke-width="0.9"/>
<path d="M432.4 41.6 L436 37.6 M436 37.6 L434 38 M436 37.6 L435.8 39.6" stroke="#222" stroke-width="0.8" fill="none"/>
<path d="M434.3 43.2 V51.4 M430.2 51.4 H438.4 M431.6 53.4 H437 M433.1 55.4 H435.5" stroke="#2a2a2a" stroke-width="0.85" fill="none"/>
<rect x="411.2" y="82" width="8.4" height="9.4" fill="none" stroke="#ff2323" stroke-width="1.4" stroke-dasharray="2.2 1.1"/>
<path d="M419.6 82 L453.9 60.4 M419.6 91.4 L453.9 101.8" fill="none" stroke="#ff2323" stroke-width="1.25" stroke-dasharray="3.4 1.6"/>
<rect x="453.9" y="60.3" width="42.1" height="41.6" fill="#fff" stroke="#ff2323" stroke-width="1.2"/>
<rect x="455" y="64.2" width="39.9" height="11.6" fill="#b9d9aa"/>
<rect x="455" y="75.7" width="39.9" height="11.4" fill="#ffc000"/>
<rect x="455" y="87" width="39.9" height="11.6" fill="#7030a0"/>
<text x="474.8" y="73.2" class="sa" font-size="8.3" text-anchor="middle" fill="#f4f8f0" font-weight="bold" textLength="17.8" lengthAdjust="spacingAndGlyphs">PTFE</text>
<text x="474.8" y="84.6" class="sa" font-size="8.3" text-anchor="middle" fill="#fff8e0" font-weight="bold" textLength="27.0" lengthAdjust="spacingAndGlyphs">Copper</text>
<text x="474.8" y="96.1" class="sa" font-size="8.3" text-anchor="middle" fill="#f4ecfa" font-weight="bold" textLength="19.6" lengthAdjust="spacingAndGlyphs">Glass</text>
<text x="342.7" y="183.2" class="sa" font-size="13.9" text-anchor="start" fill="#111" font-weight="bold" textLength="17.0" lengthAdjust="spacingAndGlyphs" stroke="#111" stroke-width="0.3">(d)</text>
<rect x="372.6" y="170.2" width="147.4" height="76.5" fill="#fff"/>
<rect x="377.2" y="170.6" width="6.8" height="75.7" fill="#b3e5f2"/>
<path d="M372.60 241.29C373.21 241.50 375.13 242.15 376.29 242.54C377.44 242.92 378.80 243.62 379.51 243.62C380.22 243.62 380.25 244.48 380.52 242.54C380.80 240.60 380.91 234.25 381.17 231.98C381.42 229.70 381.55 230.16 382.04 228.87C382.53 227.58 383.39 226.02 384.12 224.21C384.84 222.40 385.57 219.94 386.42 218.00C387.26 216.06 388.41 213.50 389.18 212.56C389.95 211.63 390.33 212.15 391.03 212.41C391.72 212.67 392.56 212.93 393.33 214.12C394.10 215.31 394.86 217.35 395.63 219.55C396.40 221.75 397.24 225.19 397.93 227.32C398.63 229.44 399.09 231.12 399.78 232.29C400.47 233.45 401.31 233.58 402.08 234.31C402.85 235.03 403.62 235.78 404.38 236.64C405.15 237.49 405.84 238.65 406.69 239.43C407.53 240.21 408.99 240.98 409.45 241.29" fill="none" stroke="#ff444f" stroke-width="1.25"/>
<rect x="414.1" y="170.6" width="6.8" height="75.7" fill="#b3e5f2"/>
<path d="M409.45 244.40C410.14 244.40 412.52 244.79 413.60 244.40C414.67 244.01 415.21 243.36 415.90 242.07C416.59 240.78 417.13 239.09 417.74 236.64C418.36 234.18 418.97 230.68 419.58 227.32C420.20 223.95 420.81 220.33 421.43 216.45C422.04 212.56 422.65 207.78 423.27 204.02C423.88 200.27 424.50 196.65 425.11 193.93C425.73 191.21 426.26 189.32 426.95 187.72C427.64 186.11 428.57 185.08 429.26 184.30C429.95 183.52 430.56 182.62 431.10 183.06C431.64 183.50 432.02 184.74 432.48 186.94C432.94 189.14 433.33 192.12 433.86 196.26C434.40 200.40 435.09 206.61 435.71 211.79C436.32 216.96 436.93 223.05 437.55 227.32C438.16 231.59 438.70 234.87 439.39 237.41C440.08 239.95 440.93 241.42 441.69 242.54C442.46 243.65 443.23 243.78 444.00 244.09C444.76 244.40 445.92 244.35 446.30 244.40" fill="none" stroke="#35a453" stroke-width="1.25"/>
<rect x="450.9" y="170.6" width="6.8" height="75.7" fill="#b3e5f2"/>
<path d="M446.30 242.54C446.99 242.59 449.52 243.57 450.45 242.85C451.37 242.12 451.37 241.04 451.83 238.19C452.29 235.34 452.79 229.26 453.21 225.76C453.63 222.27 454.09 217.48 454.36 217.22C454.63 216.96 454.59 224.34 454.82 224.21C455.05 224.08 455.32 219.42 455.74 216.45C456.17 213.47 456.70 209.46 457.36 206.35C458.01 203.25 458.97 200.06 459.66 197.81C460.35 195.56 460.81 193.88 461.50 192.84C462.19 191.81 463.04 191.68 463.80 191.60C464.57 191.52 465.42 191.08 466.11 192.37C466.80 193.67 467.34 196.39 467.95 199.36C468.56 202.34 469.18 206.22 469.79 210.23C470.41 214.25 471.02 219.55 471.63 223.43C472.25 227.32 472.79 230.68 473.48 233.53C474.17 236.38 474.94 238.96 475.78 240.52C476.62 242.07 477.70 242.59 478.54 242.85C479.39 243.11 480.08 242.38 480.85 242.07C481.61 241.76 482.77 241.16 483.15 240.98" fill="none" stroke="#544fd0" stroke-width="1.25"/>
<rect x="487.8" y="170.6" width="6.8" height="75.7" fill="#b3e5f2"/>
<path d="M483.15 242.85C484.07 242.85 487.30 243.36 488.68 242.85C490.06 242.33 490.67 241.55 491.44 239.74C492.21 237.93 492.67 235.08 493.28 231.98C493.90 228.87 494.51 224.73 495.13 221.11C495.74 217.48 496.35 213.47 496.97 210.23C497.58 207.00 498.20 203.71 498.81 201.69C499.43 199.67 499.96 198.72 500.65 198.12C501.34 197.53 502.27 197.40 502.96 198.12C503.65 198.85 504.19 200.19 504.80 202.47C505.41 204.75 506.03 208.42 506.64 211.79C507.26 215.15 507.87 219.29 508.48 222.66C509.10 226.02 509.71 229.39 510.33 231.98C510.94 234.56 511.48 236.51 512.17 238.19C512.86 239.87 513.63 241.29 514.47 242.07C515.32 242.85 516.32 242.72 517.24 242.85C518.16 242.98 519.54 242.85 520.00 242.85" fill="none" stroke="#ff49a6" stroke-width="1.25"/>
<rect x="372.6" y="170.2" width="147.4" height="76.5" fill="none" stroke="#3a3a3a" stroke-width="1"/>
<line x1="409.5" y1="170.2" x2="409.5" y2="246.7" stroke="#3a3a3a" stroke-width="0.9"/>
<line x1="446.3" y1="170.2" x2="446.3" y2="246.7" stroke="#3a3a3a" stroke-width="0.9"/>
<line x1="483.2" y1="170.2" x2="483.2" y2="246.7" stroke="#3a3a3a" stroke-width="0.9"/>
<text x="372.6" y="253.4" class="sa" font-size="6" text-anchor="middle" fill="#ff2020" font-weight="bold">0</text>
<line x1="372.6" y1="246.7" x2="372.6" y2="248.1" stroke="#3a3a3a" stroke-width="0.6"/>
<text x="381.8" y="253.4" class="sa" font-size="6" text-anchor="middle" fill="#ff2020" font-weight="bold">2</text>
<line x1="381.8" y1="246.7" x2="381.8" y2="248.1" stroke="#3a3a3a" stroke-width="0.6"/>
<text x="391.0" y="253.4" class="sa" font-size="6" text-anchor="middle" fill="#ff2020" font-weight="bold">4</text>
<line x1="391.0" y1="246.7" x2="391.0" y2="248.1" stroke="#3a3a3a" stroke-width="0.6"/>
<text x="400.2" y="253.4" class="sa" font-size="6" text-anchor="middle" fill="#ff2020" font-weight="bold">6</text>
<line x1="400.2" y1="246.7" x2="400.2" y2="248.1" stroke="#3a3a3a" stroke-width="0.6"/>
<text x="410.3" y="253.4" class="sa" font-size="6" text-anchor="middle" fill="#109a3a" font-weight="bold">0</text>
<line x1="409.5" y1="246.7" x2="409.5" y2="248.1" stroke="#3a3a3a" stroke-width="0.6"/>
<text x="418.7" y="253.4" class="sa" font-size="6" text-anchor="middle" fill="#109a3a" font-weight="bold">2</text>
<line x1="418.7" y1="246.7" x2="418.7" y2="248.1" stroke="#3a3a3a" stroke-width="0.6"/>
<text x="427.9" y="253.4" class="sa" font-size="6" text-anchor="middle" fill="#109a3a" font-weight="bold">4</text>
<line x1="427.9" y1="246.7" x2="427.9" y2="248.1" stroke="#3a3a3a" stroke-width="0.6"/>
<text x="437.1" y="253.4" class="sa" font-size="6" text-anchor="middle" fill="#109a3a" font-weight="bold">6</text>
<line x1="437.1" y1="246.7" x2="437.1" y2="248.1" stroke="#3a3a3a" stroke-width="0.6"/>
<text x="447.1" y="253.4" class="sa" font-size="6" text-anchor="middle" fill="#3030d0" font-weight="bold">0</text>
<line x1="446.3" y1="246.7" x2="446.3" y2="248.1" stroke="#3a3a3a" stroke-width="0.6"/>
<text x="455.5" y="253.4" class="sa" font-size="6" text-anchor="middle" fill="#3030d0" font-weight="bold">2</text>
<line x1="455.5" y1="246.7" x2="455.5" y2="248.1" stroke="#3a3a3a" stroke-width="0.6"/>
<text x="464.7" y="253.4" class="sa" font-size="6" text-anchor="middle" fill="#3030d0" font-weight="bold">4</text>
<line x1="464.7" y1="246.7" x2="464.7" y2="248.1" stroke="#3a3a3a" stroke-width="0.6"/>
<text x="473.9" y="253.4" class="sa" font-size="6" text-anchor="middle" fill="#3030d0" font-weight="bold">6</text>
<line x1="473.9" y1="246.7" x2="473.9" y2="248.1" stroke="#3a3a3a" stroke-width="0.6"/>
<text x="484.0" y="253.4" class="sa" font-size="6" text-anchor="middle" fill="#ff30a0" font-weight="bold">0</text>
<line x1="483.2" y1="246.7" x2="483.2" y2="248.1" stroke="#3a3a3a" stroke-width="0.6"/>
<text x="492.4" y="253.4" class="sa" font-size="6" text-anchor="middle" fill="#ff30a0" font-weight="bold">2</text>
<line x1="492.4" y1="246.7" x2="492.4" y2="248.1" stroke="#3a3a3a" stroke-width="0.6"/>
<text x="501.6" y="253.4" class="sa" font-size="6" text-anchor="middle" fill="#ff30a0" font-weight="bold">4</text>
<line x1="501.6" y1="246.7" x2="501.6" y2="248.1" stroke="#3a3a3a" stroke-width="0.6"/>
<text x="510.8" y="253.4" class="sa" font-size="6" text-anchor="middle" fill="#ff30a0" font-weight="bold">6</text>
<line x1="510.8" y1="246.7" x2="510.8" y2="248.1" stroke="#3a3a3a" stroke-width="0.6"/>
<line x1="371.0" y1="244.4" x2="372.6" y2="244.4" stroke="#3a3a3a" stroke-width="0.7"/>
<text x="369.8" y="246.5" class="sa" font-size="6" text-anchor="end" fill="#222" font-weight="bold">0</text>
<line x1="371.0" y1="228.9" x2="372.6" y2="228.9" stroke="#3a3a3a" stroke-width="0.7"/>
<text x="369.8" y="231.0" class="sa" font-size="6" text-anchor="end" fill="#222" font-weight="bold">1</text>
<line x1="371.0" y1="213.3" x2="372.6" y2="213.3" stroke="#3a3a3a" stroke-width="0.7"/>
<text x="369.8" y="215.4" class="sa" font-size="6" text-anchor="end" fill="#222" font-weight="bold">2</text>
<line x1="371.0" y1="197.8" x2="372.6" y2="197.8" stroke="#3a3a3a" stroke-width="0.7"/>
<text x="369.8" y="199.9" class="sa" font-size="6" text-anchor="end" fill="#222" font-weight="bold">3</text>
<line x1="371.0" y1="182.3" x2="372.6" y2="182.3" stroke="#3a3a3a" stroke-width="0.7"/>
<text x="369.8" y="184.4" class="sa" font-size="6" text-anchor="end" fill="#222" font-weight="bold">4</text>
<text class="sa" font-size="7.8" font-weight="bold" text-anchor="middle" fill="#1c1c1c" transform="translate(361.6 213.4) rotate(-90)"><tspan font-style="italic">V</tspan><tspan font-size="5.2" dy="1.4">oc</tspan><tspan dy="-1.4"> (V)</tspan></text>
<text x="445.0" y="259.9" class="sa" font-size="7.3" text-anchor="middle" fill="#1c1c1c" font-weight="bold" textLength="24.4" lengthAdjust="spacingAndGlyphs">Time (s)</text>
<text x="391.0" y="178.8" class="sa" font-size="7.3" font-weight="bold" text-anchor="middle" fill="#1c1c1c" stroke="#1c1c1c" stroke-width="0.25" textLength="11.9" lengthAdjust="spacingAndGlyphs">HCl</text>
<text x="428.1" y="178.8" class="sa" font-size="7.3" font-weight="bold" text-anchor="middle" fill="#1c1c1c" stroke="#1c1c1c" stroke-width="0.25">H<tspan font-size="4.8" dy="1.5">2</tspan><tspan dy="-1.5">O</tspan></text>
<text x="464.7" y="178.8" class="sa" font-size="7.3" font-weight="bold" text-anchor="middle" fill="#1c1c1c" stroke="#1c1c1c" stroke-width="0.25" textLength="20.4" lengthAdjust="spacingAndGlyphs">NaOH</text>
<text x="501.8" y="178.8" class="sa" font-size="7.3" font-weight="bold" text-anchor="middle" fill="#1c1c1c" stroke="#1c1c1c" stroke-width="0.25" textLength="25.6" lengthAdjust="spacingAndGlyphs">NaOH +</text>
<text x="501.8" y="189.0" class="sa" font-size="7.3" text-anchor="middle" fill="#1c1c1c" font-weight="bold" textLength="15.2" lengthAdjust="spacingAndGlyphs" stroke="#1c1c1c" stroke-width="0.25">NaCl</text>
<rect x="373.7" y="265.4" width="146.5" height="76.9" fill="#fff"/>
<path d="M374.28 320.80V334.35M380.46 320.80V336.82M386.71 320.80V337.74M392.88 320.80V336.82M398.62 320.80V340.51M404.65 320.80V338.05" fill="none" stroke="#ff5a60" stroke-width="0.75"/>
<path d="M374.10 321.42L374.32 322.96L374.64 320.49L375.23 318.34L376.17 319.11L377.91 320.49L379.80 322.03L380.49 322.96L380.82 320.49L381.40 318.34L382.35 319.11L384.09 320.49L385.98 322.03L386.74 322.96L387.07 320.49L387.65 318.34L388.60 319.11L390.34 320.49L392.23 322.03L392.92 322.96L393.25 320.49L393.83 318.34L394.77 319.11L396.51 320.49L398.40 322.03L398.66 322.96L398.99 320.49L399.57 318.34L400.51 319.11L402.25 320.49L404.14 322.03L404.69 322.96L405.02 320.49L405.60 318.34L406.54 319.11L408.29 320.49" fill="none" stroke="#ff3b45" stroke-width="1.15" stroke-linejoin="round" stroke-linecap="round"/>
<path d="M410.72 322.26L412.86 323.73L413.15 323.57L413.66 317.72L414.10 318.34L416.21 320.80L418.97 323.73L419.26 323.57L419.77 317.72L420.20 318.34L422.31 320.80L425.07 323.73L425.36 323.57L425.87 317.72L426.30 318.34L428.41 320.80L431.17 323.73L431.46 323.57L431.97 317.72L432.41 318.34L434.52 320.80L437.28 323.73L437.57 323.57L438.08 317.72L438.51 318.34L440.62 320.80L443.38 323.73L443.67 323.57L444.18 317.72L444.61 318.34" fill="none" stroke="#1f9c4c" stroke-width="1.3" stroke-linejoin="round" stroke-linecap="round"/>
<path d="M448.10 320.80V275.83M454.06 320.80V276.76M460.31 320.80V279.84M466.27 320.80V279.53M472.08 320.80V279.53M478.33 320.80V280.45" fill="none" stroke="#8f8de8" stroke-width="0.85"/>
<path d="M447.34 322.57L447.85 324.19L448.10 312.79L448.43 315.87L448.97 317.41L450.28 320.18L452.10 322.65L453.62 324.34L453.81 324.19L454.06 312.79L454.39 315.87L454.93 317.41L456.24 320.18L458.06 322.65L459.58 324.34L460.05 324.19L460.31 312.79L460.64 315.87L461.18 317.41L462.49 320.18L464.31 322.65L465.83 324.34L466.01 324.19L466.27 312.79L466.59 315.87L467.14 317.41L468.45 320.18L470.26 322.65L471.79 324.34L471.83 324.19L472.08 312.79L472.41 315.87L472.95 317.41L474.26 320.18L476.08 322.65L477.60 324.34L478.07 324.19L478.33 312.79L478.66 315.87L479.20 317.41L480.51 320.18L482.32 322.65" fill="none" stroke="#2a34c8" stroke-width="1.25" stroke-linejoin="round" stroke-linecap="round"/>
<path d="M483.96 322.19L485.30 323.57L485.52 323.57L485.96 316.49L486.47 318.03L488.50 320.49L491.33 323.57L491.55 323.57L491.99 316.49L492.50 318.03L494.53 320.49L497.37 323.57L497.51 323.57L497.95 316.49L498.46 318.03L500.49 320.49L503.32 323.57L503.54 323.57L503.98 316.49L504.49 318.03L506.52 320.49L509.35 323.57L509.50 323.57L509.94 316.49L510.44 318.03L512.48 320.49L515.31 323.57L515.53 323.57L515.97 316.49L516.47 318.03L518.51 320.49" fill="none" stroke="#ee35a2" stroke-width="1.2" stroke-linejoin="round" stroke-linecap="round"/>
<rect x="402.3" y="321.6" width="4.2" height="17.7" fill="#d0d0d0" fill-opacity="0.4" stroke="#444" stroke-width="0.65"/>
<rect x="439.1" y="318.2" width="4.2" height="5.1" fill="#d0d0d0" fill-opacity="0.4" stroke="#444" stroke-width="0.65"/>
<rect x="475.4" y="279.1" width="4.9" height="39.5" fill="#d0d0d0" fill-opacity="0.4" stroke="#444" stroke-width="0.65"/>
<rect x="512.3" y="314" width="4.4" height="6.2" fill="#d0d0d0" fill-opacity="0.4" stroke="#444" stroke-width="0.65"/>
<rect x="373.7" y="265.4" width="146.5" height="76.9" fill="none" stroke="#3a3a3a" stroke-width="1"/>
<line x1="410.3" y1="265.4" x2="410.3" y2="342.3" stroke="#3a3a3a" stroke-width="0.9"/>
<line x1="446.9" y1="265.4" x2="446.9" y2="342.3" stroke="#3a3a3a" stroke-width="0.9"/>
<line x1="483.6" y1="265.4" x2="483.6" y2="342.3" stroke="#3a3a3a" stroke-width="0.9"/>
<text x="373.7" y="348.4" class="sa" font-size="6" text-anchor="middle" fill="#ff2020" font-weight="bold">0</text>
<line x1="373.7" y1="342.3" x2="373.7" y2="343.7" stroke="#3a3a3a" stroke-width="0.6"/>
<text x="388.2" y="348.4" class="sa" font-size="6" text-anchor="middle" fill="#ff2020" font-weight="bold">20</text>
<line x1="388.2" y1="342.3" x2="388.2" y2="343.7" stroke="#3a3a3a" stroke-width="0.6"/>
<text x="403.1" y="348.4" class="sa" font-size="6" text-anchor="middle" fill="#ff2020" font-weight="bold">40</text>
<line x1="402.8" y1="342.3" x2="402.8" y2="343.7" stroke="#3a3a3a" stroke-width="0.6"/>
<text x="411.3" y="348.4" class="sa" font-size="6" text-anchor="middle" fill="#109a3a" font-weight="bold">0</text>
<line x1="410.3" y1="342.3" x2="410.3" y2="343.7" stroke="#3a3a3a" stroke-width="0.6"/>
<text x="424.9" y="348.4" class="sa" font-size="6" text-anchor="middle" fill="#109a3a" font-weight="bold">20</text>
<line x1="424.9" y1="342.3" x2="424.9" y2="343.7" stroke="#3a3a3a" stroke-width="0.6"/>
<text x="439.7" y="348.4" class="sa" font-size="6" text-anchor="middle" fill="#109a3a" font-weight="bold">40</text>
<line x1="439.4" y1="342.3" x2="439.4" y2="343.7" stroke="#3a3a3a" stroke-width="0.6"/>
<text x="447.9" y="348.4" class="sa" font-size="6" text-anchor="middle" fill="#3030d0" font-weight="bold">0</text>
<line x1="446.9" y1="342.3" x2="446.9" y2="343.7" stroke="#3a3a3a" stroke-width="0.6"/>
<text x="461.5" y="348.4" class="sa" font-size="6" text-anchor="middle" fill="#3030d0" font-weight="bold">20</text>
<line x1="461.5" y1="342.3" x2="461.5" y2="343.7" stroke="#3a3a3a" stroke-width="0.6"/>
<text x="476.3" y="348.4" class="sa" font-size="6" text-anchor="middle" fill="#3030d0" font-weight="bold">40</text>
<line x1="476.0" y1="342.3" x2="476.0" y2="343.7" stroke="#3a3a3a" stroke-width="0.6"/>
<text x="484.6" y="348.4" class="sa" font-size="6" text-anchor="middle" fill="#ff30a0" font-weight="bold">0</text>
<line x1="483.6" y1="342.3" x2="483.6" y2="343.7" stroke="#3a3a3a" stroke-width="0.6"/>
<text x="498.1" y="348.4" class="sa" font-size="6" text-anchor="middle" fill="#ff30a0" font-weight="bold">20</text>
<line x1="498.1" y1="342.3" x2="498.1" y2="343.7" stroke="#3a3a3a" stroke-width="0.6"/>
<text x="512.9" y="348.4" class="sa" font-size="6" text-anchor="middle" fill="#ff30a0" font-weight="bold">40</text>
<line x1="512.6" y1="342.3" x2="512.6" y2="343.7" stroke="#3a3a3a" stroke-width="0.6"/>
<line x1="372.09999999999997" y1="274.6" x2="373.7" y2="274.6" stroke="#3a3a3a" stroke-width="0.7"/>
<text x="370.9" y="276.7" class="sa" font-size="6" text-anchor="end" fill="#222" font-weight="bold">15</text>
<line x1="372.09999999999997" y1="290.0" x2="373.7" y2="290.0" stroke="#3a3a3a" stroke-width="0.7"/>
<text x="370.9" y="292.1" class="sa" font-size="6" text-anchor="end" fill="#222" font-weight="bold">10</text>
<line x1="372.09999999999997" y1="305.4" x2="373.7" y2="305.4" stroke="#3a3a3a" stroke-width="0.7"/>
<text x="370.9" y="307.5" class="sa" font-size="6" text-anchor="end" fill="#222" font-weight="bold">5</text>
<line x1="372.09999999999997" y1="320.8" x2="373.7" y2="320.8" stroke="#3a3a3a" stroke-width="0.7"/>
<text x="370.9" y="322.9" class="sa" font-size="6" text-anchor="end" fill="#222" font-weight="bold">0</text>
<line x1="372.09999999999997" y1="336.2" x2="373.7" y2="336.2" stroke="#3a3a3a" stroke-width="0.7"/>
<text x="370.9" y="338.3" class="sa" font-size="6" text-anchor="end" fill="#222" font-weight="bold">-5</text>
<text class="sa" font-size="7.8" font-weight="bold" text-anchor="middle" fill="#1c1c1c" transform="translate(360.2 304.7) rotate(-90)"><tspan font-style="italic">I</tspan><tspan font-size="5.2" dy="1.4">sc</tspan><tspan dy="-1.4"> (nA)</tspan></text>
<text x="447.0" y="358.4" class="sa" font-size="7.3" text-anchor="middle" fill="#1c1c1c" font-weight="bold" textLength="24.4" lengthAdjust="spacingAndGlyphs">Time (s)</text>
<text x="391.2" y="274.6" class="sa" font-size="7.3" font-weight="bold" text-anchor="middle" fill="#1c1c1c" stroke="#1c1c1c" stroke-width="0.25" textLength="11.9" lengthAdjust="spacingAndGlyphs">HCl</text>
<text x="428.0" y="274.6" class="sa" font-size="7.3" font-weight="bold" text-anchor="middle" fill="#1c1c1c" stroke="#1c1c1c" stroke-width="0.25">H<tspan font-size="4.8" dy="1.5">2</tspan><tspan dy="-1.5">O</tspan></text>
<text x="464.4" y="274.6" class="sa" font-size="7.3" font-weight="bold" text-anchor="middle" fill="#1c1c1c" stroke="#1c1c1c" stroke-width="0.25" textLength="20.4" lengthAdjust="spacingAndGlyphs">NaOH</text>
<text x="501.3" y="274.6" class="sa" font-size="7.3" font-weight="bold" text-anchor="middle" fill="#1c1c1c" stroke="#1c1c1c" stroke-width="0.25" textLength="25.6" lengthAdjust="spacingAndGlyphs">NaOH +</text>
<text x="501.3" y="284.8" class="sa" font-size="7.3" text-anchor="middle" fill="#1c1c1c" font-weight="bold" textLength="15.2" lengthAdjust="spacingAndGlyphs" stroke="#1c1c1c" stroke-width="0.25">NaCl</text>
</svg></body></html>
